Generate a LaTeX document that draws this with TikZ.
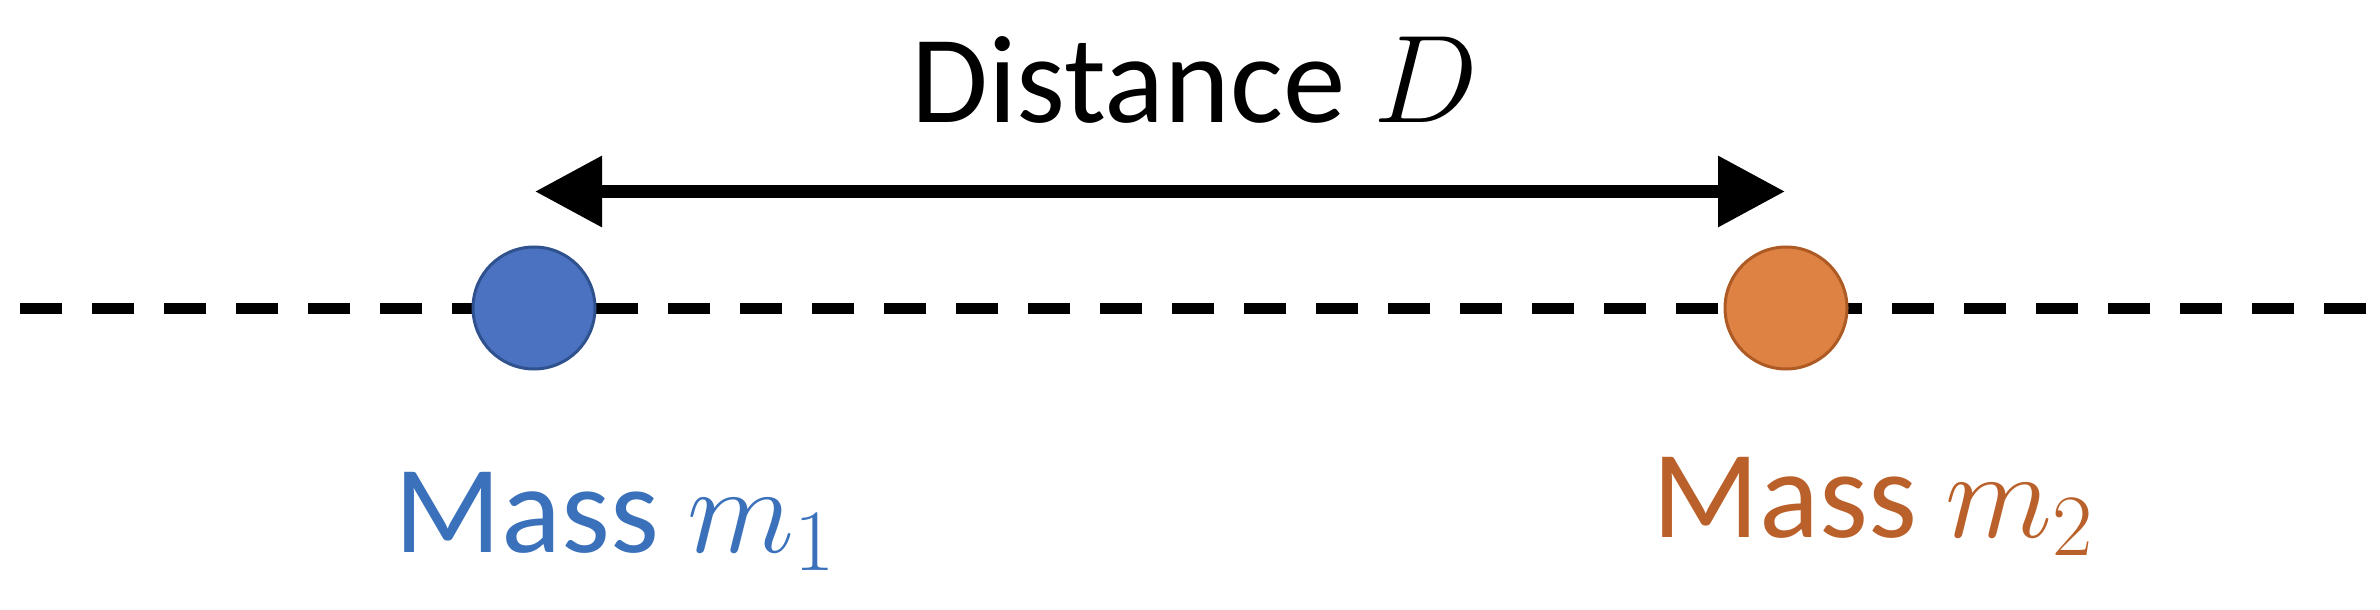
\RequirePackage{fix-cm}
\documentclass[tikz,border=0pt]{standalone}
\usepackage{fontspec}
\setmainfont{Carlito}
\usetikzlibrary{arrows.meta}
\definecolor{bluefill}{HTML}{4A72C0}
\definecolor{blueedge}{HTML}{2F528F}
\definecolor{orangefill}{HTML}{DE8244}
\definecolor{orangeedge}{HTML}{AE5A24}
\definecolor{bluetext}{HTML}{3A71BA}
\definecolor{orangetext}{HTML}{BA602A}
\tikzset{
  mass/.style={circle, inner sep=0pt, minimum size=61bp, line width=1.5bp},
  lbl/.style={anchor=base, inner sep=0pt, font=\fontsize{62.5bp}{75bp}\selectfont},
  axisline/.style={line width=5.5bp, dash pattern=on 21bp off 15bp},
  distarrow/.style={line width=6.5bp, {Triangle[length=33.5bp,width=34bp]}-{Triangle[length=33.5bp,width=34bp]}}
}
\begin{document}
\begin{tikzpicture}[x=0.5bp, y=-0.5bp]
\useasboundingbox (0,0) rectangle (2380,610);
\coordinate (lineL) at (20,308.5);
\coordinate (lineR) at (2366,308.5);
\draw[axisline] (lineL) -- (lineR);
\node[mass, fill=bluefill, draw=blueedge] (m1) at (534,308) {};
\node[mass, fill=orangefill, draw=orangeedge] (m2) at (1786,308) {};
\coordinate (arrL) at (535,191.5);
\coordinate (arrR) at (1785,191.5);
\draw[distarrow] (arrL) -- (arrR);
\node[lbl] (dist) at (1195,123) {Distance $D$};
\node[lbl, text=bluetext] (lab1) at (615,552) {Mass $m_1$};
\node[lbl, text=orangetext] (lab2) at (1873,537) {Mass $m_2$};
\end{tikzpicture}
\end{document}
